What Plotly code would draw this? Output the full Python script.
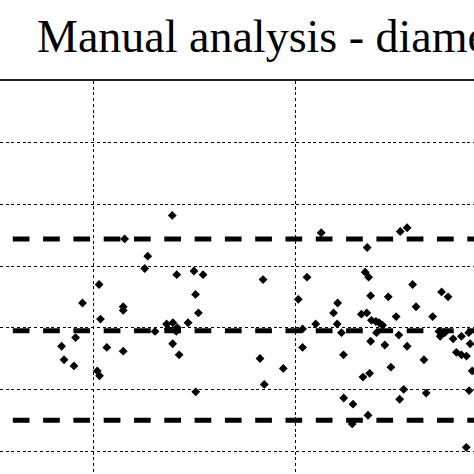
import plotly.graph_objects as go

# Bland-Altman style data (mean of methods vs difference)
mean_vals = [
    13.91, 11.56, 12.70, 12.55, 14.13, 14.98, 15.43, 10.30, 15.06, 9.48,
    11.49, 11.49, 15.20, 10.37, 14.69, 13.63, 13.94, 13.06, 13.71, 14.11,
    14.16, 9.14, 8.45, 10.68, 11.49, 13.93, 8.57, 14.25, 9.06, 10.21,
    10.32, 15.07,
    21.26, 25.16, 25.50, 23.53, 18.39, 20.56, 23.43, 23.60, 25.77, 27.20,
    27.52, 23.70, 24.57, 20.13, 22.07, 25.94, 21.87, 23.24, 23.51, 24.96,
    26.76, 23.74, 23.96, 24.12, 24.29, 20.99, 22.05, 22.26, 23.99, 25.09,
    20.34, 27.07, 27.13, 27.36, 27.77, 28.18, 28.54, 28.61, 20.34, 23.70,
    24.40, 25.50, 22.36, 18.24, 19.39, 26.33, 27.93, 28.18, 28.43, 24.70,
    23.32, 23.65, 28.71, 18.45, 25.33, 25.13, 26.44, 28.56, 22.37, 22.83,
    23.57, 22.79, 28.42,
]
diff_vals = [
    0.91, 0.72, 0.58, 0.48, 0.43, 0.46, 0.43, 0.35, 0.27, 0.20,
    0.17, 0.14, 0.12, 0.07, 0.04, 0.03, 0.04, -0.03, -0.01, -0.03,
    0.00, -0.08, -0.15, -0.16, -0.19, -0.13, -0.26, -0.22, -0.31, -0.35,
    -0.39, -0.52,
    0.77, 0.78, 0.81, 0.65, 0.39, 0.41, 0.45, 0.41, 0.35, 0.29,
    0.25, 0.26, 0.25, 0.23, 0.20, 0.17, 0.12, 0.11, 0.12, 0.09,
    0.09, 0.06, 0.05, 0.04, 0.02, 0.03, 0.03, -0.04, -0.04, -0.06,
    -0.01, -0.03, -0.07, -0.04, -0.09, -0.07, -0.04, -0.13, -0.16, -0.11,
    -0.14, -0.15, -0.22, -0.25, -0.33, -0.26, -0.20, -0.22, -0.23, -0.32,
    -0.40, -0.37, -0.35, -0.46, -0.50, -0.58, -0.53, -0.51, -0.57, -0.62,
    -0.71, -0.78, -0.97,
]

mean_diff = -0.024
upper_loa = 0.72
lower_loa = -0.75

x_range = [5.41, 28.80]
y_range = [-1.186, 2.0]

title_text = "Manual analysis - diameter"

fig = go.Figure()

fig.add_trace(go.Scatter(
    x=mean_vals, y=diff_vals, mode="markers",
    marker=dict(symbol="diamond", size=6.8, color="black", line=dict(width=0)),
    showlegend=False, cliponaxis=True, hoverinfo="skip",
))

for val in [upper_loa, mean_diff, lower_loa]:
    fig.add_shape(type="line", xref="paper", yref="y",
                  x0=12.8 / 474, x1=1.0, y0=val, y1=val,
                  line=dict(color="black", width=5, dash="16.7px,13.6px"))

fig.update_layout(
    width=474, height=474,
    margin=dict(l=0, r=0, t=81, b=0, pad=0),
    paper_bgcolor="white", plot_bgcolor="white",
    title=dict(text=title_text, x=37 / 474, xanchor="left", xref="container",
               y=1 - 36 / 474, yanchor="middle", yref="container",
               font=dict(family="Liberation Serif", size=46, color="black")),
    xaxis=dict(range=x_range, tickvals=[10, 20], showticklabels=False, ticks="",
               showgrid=True, gridcolor="black", gridwidth=1.3, griddash="3px,2.7px",
               zeroline=False, showline=True, side="top", linecolor="#222",
               linewidth=1.5, mirror=False),
    yaxis=dict(range=y_range, tick0=0, dtick=0.5, showticklabels=False, ticks="",
               showgrid=True, gridcolor="black", gridwidth=1.2, griddash="3px,2.7px",
               zeroline=False, showline=False),
)

fig.write_html("out.html", config={"displayModeBar": False},
               post_script="document.body.style.margin='0';document.body.style.overflow='hidden';")
